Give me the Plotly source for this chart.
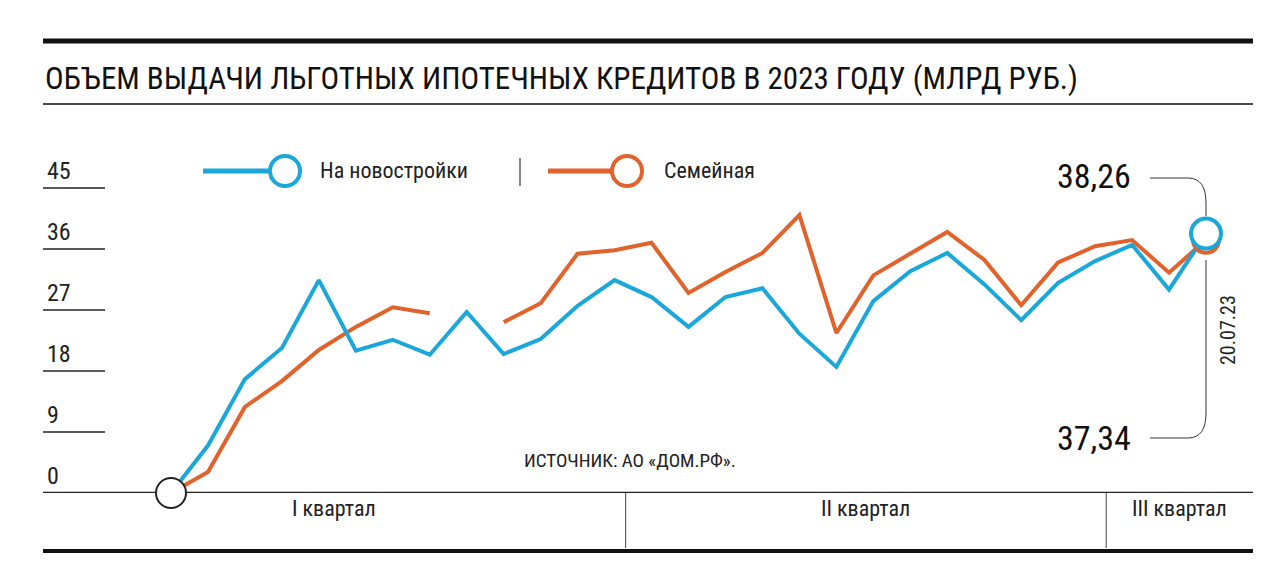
import plotly.graph_objects as go

weeks = list(range(29))
novostroyki = [0, 7, 16.8, 21.4, 31.4, 21, 22.6, 20.4, 26.7, 20.5, 22.7, 27.6, 31.4, 28.9, 24.5,
               28.9, 30.2, 23.5, 18.6, 28.3, 32.7, 35.4, 30.8, 25.5, 31, 34.2, 36.6, 30, 38.26]
semeynaya = [0, 3.1, 12.7, 16.5, 21.1, 24.5, 27.4, 26.5, None, 25.2, 28, 35.3, 35.8, 36.9, 29.5,
             32.6, 35.4, 41, 23.6, 32.1, 35.3, 38.5, 34.4, 27.7, 34, 36.4, 37.3, 32.5, 37.34]
y_ticks = [0, 9, 18, 27, 36, 45]
quarters = ["I квартал", "II квартал", "III квартал"]
quarter_bounds = [12.3, 25.3]

BLUE = "#1aa7d9"
ORANGE = "#e2622b"
W, H = 1280, 579
L, R, T, B = 35, 35, 150, 94
px_per_x = (1198 - 163) / 28
x0 = -(163 - L) / px_per_x
x1 = 28 + (W - R - 1198) / px_per_x
y1 = (H - B - T) / 6.78

fig = go.Figure()
fig.add_trace(go.Scatter(x=weeks, y=semeynaya, mode="lines", line=dict(color=ORANGE, width=4),
                         connectgaps=False, showlegend=False))
fig.add_trace(go.Scatter(x=weeks, y=novostroyki, mode="lines", line=dict(color=BLUE, width=4),
                         showlegend=False))
# end markers
fig.add_trace(go.Scatter(x=[28], y=[semeynaya[-1]], mode="markers", cliponaxis=False,
                         marker=dict(size=26, color="white", line=dict(color=ORANGE, width=4)), showlegend=False))
fig.add_trace(go.Scatter(x=[28], y=[novostroyki[-1]], mode="markers", cliponaxis=False,
                         marker=dict(size=30, color="white", line=dict(color=BLUE, width=4)), showlegend=False))
fig.add_trace(go.Scatter(x=[0], y=[0], mode="markers", cliponaxis=False,
                         marker=dict(size=30, color="white", line=dict(color="#222", width=2)), showlegend=False))

shapes = []
ann = []
F = "Roboto Condensed, Liberation Sans Narrow, Arial Narrow, sans-serif"
for v in y_ticks:
    if v:
        shapes.append(dict(type="line", xref="paper", yref="y", x0=L / W, x1=(L + 62) / W, y0=v, y1=v,
                           line=dict(color="#222", width=1.5)))
    ann.append(dict(xref="paper", yref="y", x=(L + 2) / W, y=v, yshift=17, text=str(v), showarrow=False,
                    xanchor="left", font=dict(size=24, color="#222", family=F)))
shapes.append(dict(type="line", xref="paper", yref="y", x0=L / W, x1=1 - R / W, y0=0, y1=0,
                   line=dict(color="#222", width=2.5), layer="below"))
for qb in quarter_bounds:
    shapes.append(dict(type="line", xref="x", yref="paper", x0=qb, x1=qb, y0=B / H, y1=(B - 55) / H,
                       line=dict(color="#444", width=1)))
qx = [(x0 + quarter_bounds[0]) / 2, sum(quarter_bounds) / 2, (quarter_bounds[1] + x1) / 2]
for q, x in zip(quarters, qx):
    ann.append(dict(xref="x", yref="paper", x=x, y=(B - 30) / H, text=q, showarrow=False,
                    font=dict(size=22, color="#222", family=F)))

def paper_line(xa, ya, xb, yb, w):
    shapes.append(dict(type="line", xref="paper", yref="paper", x0=xa / W, x1=xb / W,
                       y0=1 - ya / H, y1=1 - yb / H, line=dict(color="#111", width=w)))

paper_line(35, 33, 1245, 33, 5)
paper_line(35, 96, 1245, 96, 1.5)
paper_line(35, 543, 1245, 543, 4)
# callout brackets
shapes.append(dict(type="path", xref="paper", yref="paper", layer="below",
                   path=f"M {1142/W},{1-170/H} L {1180/W},{1-170/H} Q {1198/W},{1-170/H} {1198/W},{1-195/H} L {1198/W},{1-208/H}",
                   line=dict(color="#333", width=1)))
shapes.append(dict(type="path", xref="paper", yref="paper", layer="below",
                   path=f"M {1142/W},{1-430/H} L {1180/W},{1-430/H} Q {1198/W},{1-430/H} {1198/W},{1-405/H} L {1198/W},{1-252/H}",
                   line=dict(color="#333", width=1)))

# legend
shapes.append(dict(type="line", xref="paper", yref="paper", x0=195 / W, x1=265 / W, y0=1 - 163 / H, y1=1 - 163 / H,
                   line=dict(color=BLUE, width=5)))
shapes.append(dict(type="circle", xref="paper", yref="paper", x0=262 / W, x1=292 / W, y0=1 - 148 / H, y1=1 - 178 / H,
                   line=dict(color=BLUE, width=4), fillcolor="white"))
shapes.append(dict(type="line", xref="paper", yref="paper", x0=540 / W, x1=605 / W, y0=1 - 163 / H, y1=1 - 163 / H,
                   line=dict(color=ORANGE, width=5)))
shapes.append(dict(type="circle", xref="paper", yref="paper", x0=604 / W, x1=634 / W, y0=1 - 148 / H, y1=1 - 178 / H,
                   line=dict(color=ORANGE, width=4), fillcolor="white"))
paper_line(512, 150, 512, 178, 1)

def text(x, y, s, size, anchor="left", color="#222", angle=0):
    ann.append(dict(xref="paper", yref="paper", x=x / W, y=1 - y / H, text=s, showarrow=False,
                    xanchor=anchor, yanchor="middle", textangle=angle, font=dict(size=size, color=color, family=F)))

text(35, 70, "ОБЪЕМ ВЫДАЧИ ЛЬГОТНЫХ ИПОТЕЧНЫХ КРЕДИТОВ В 2023 ГОДУ (МЛРД РУБ.)", 31, color="#111")
text(310, 163, "На новостройки", 22)
text(654, 163, "Семейная", 22)
text(1125, 168, "38,26", 34, anchor="right", color="#111")
text(1125, 430, "37,34", 34, anchor="right", color="#111")
text(1220, 322, "20.07.23", 20, anchor="center", angle=-90)
text(622, 452, "ИСТОЧНИК: АО «ДОМ.РФ».", 19, anchor="center")

fig.update_layout(width=W, height=H, margin=dict(l=0, r=0, t=0, b=0),
                  plot_bgcolor="white", paper_bgcolor="white", shapes=shapes, annotations=ann,
                  xaxis=dict(range=[x0, x1], visible=False, domain=[L / W, 1 - R / W]),
                  yaxis=dict(range=[0, y1], visible=False, domain=[B / H, 1 - T / H]))
fig.write_html("out.html")
